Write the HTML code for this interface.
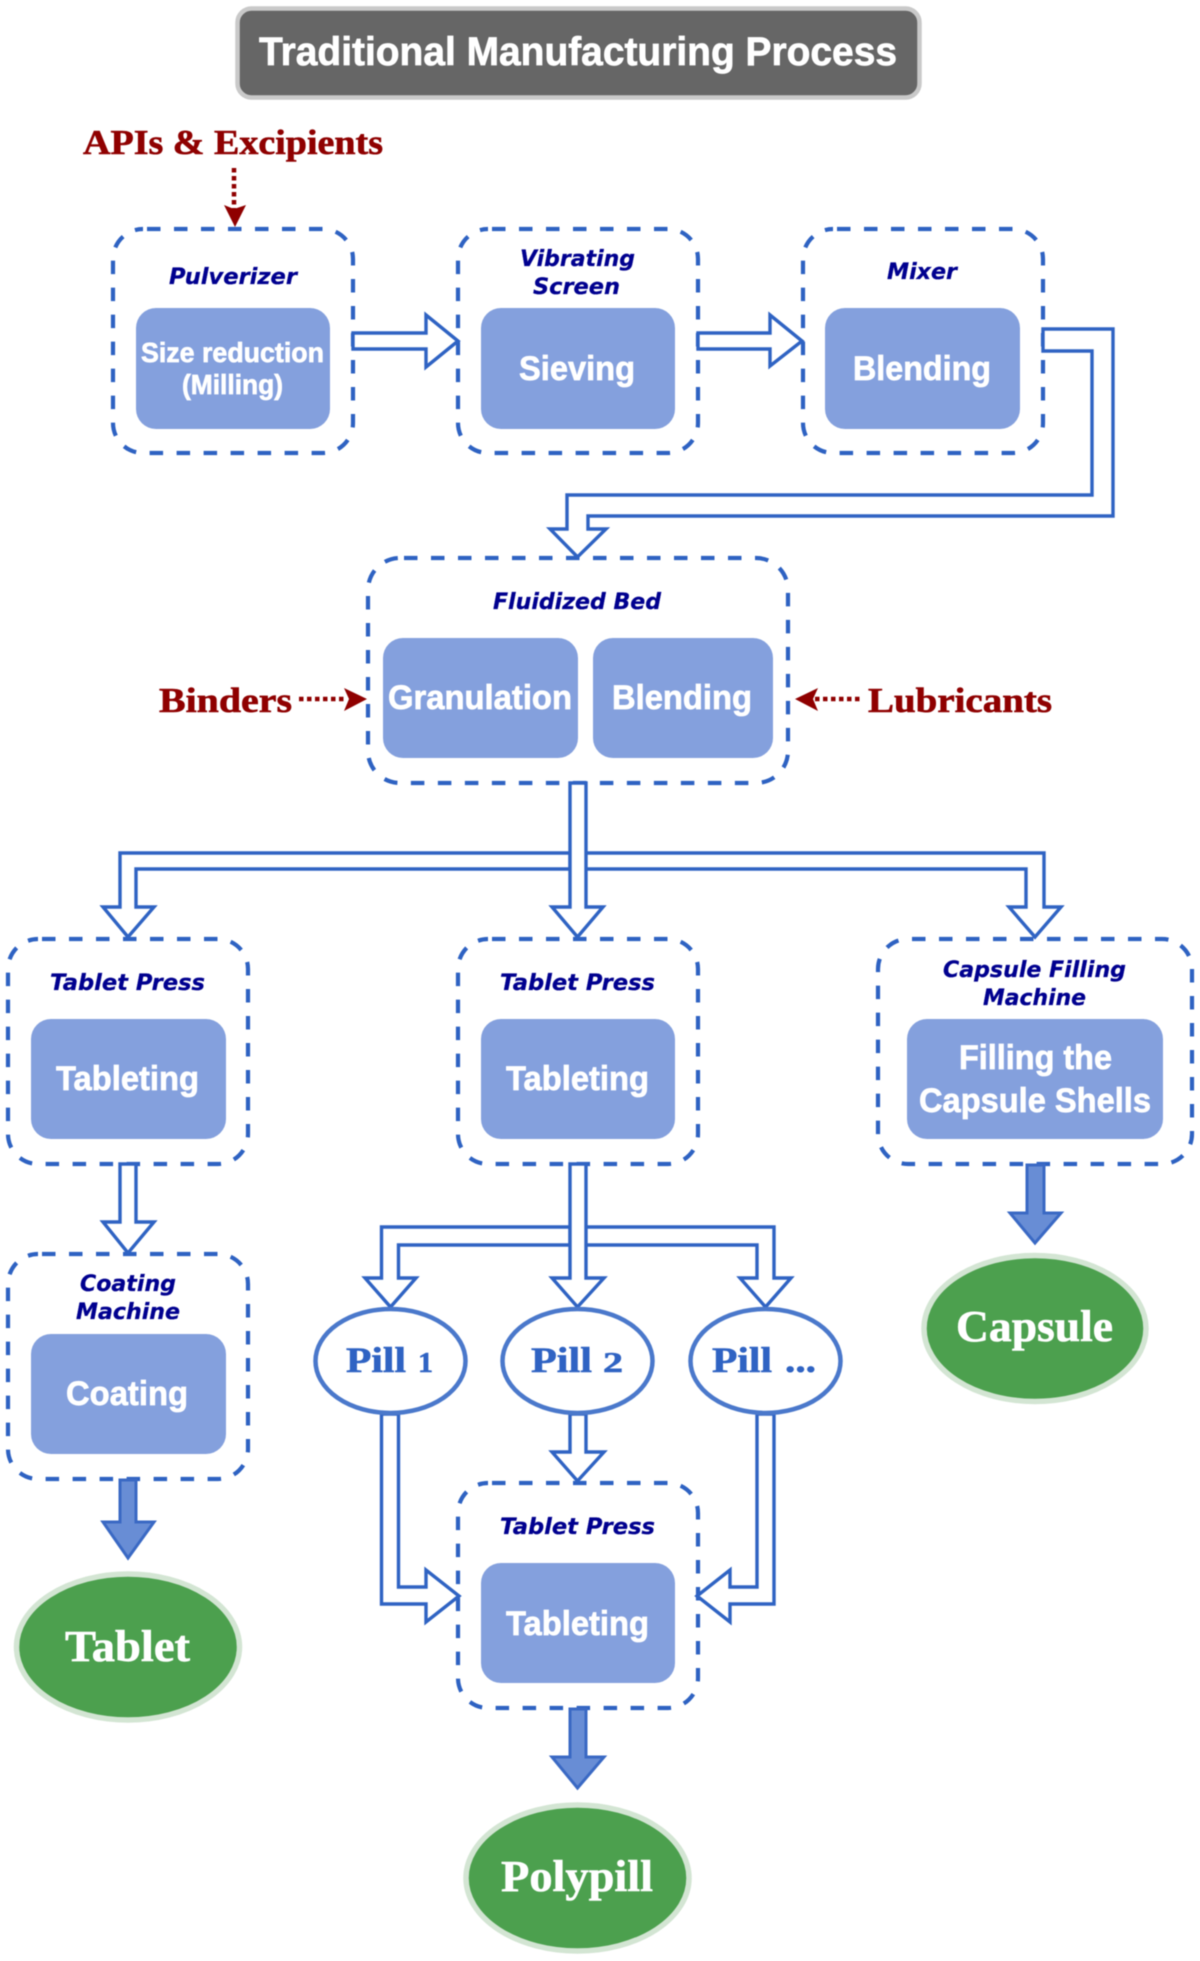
<!DOCTYPE html>
<html><head><meta charset="utf-8"><style>
html,body{margin:0;padding:0;background:#fff;width:1200px;height:1961px;overflow:hidden}
svg{display:block;filter:blur(.5px)}
.d{fill:none;stroke:#2e62c2;stroke-width:4.2;stroke-dasharray:13.5 13.5;stroke-dashoffset:-4}
.b{fill:#84a0dd}
.a{fill:#fff;stroke:#2f63c3;stroke-width:3.4;stroke-linejoin:miter}
.s{fill:#688dd5;stroke:#3a69c4;stroke-width:3}
.m{font:italic bold 22px "DejaVu Sans",sans-serif;fill:#00008f;stroke:#00008f;stroke-width:.25}
.w{font:bold 34px "Liberation Sans",sans-serif;fill:#fff;stroke:#fff;stroke-width:.7}
.r{font:bold 35px "Liberation Serif",serif;fill:#8f0000;stroke:#8f0000;stroke-width:.6}
.p{font:bold 36px "Liberation Serif",serif;fill:#2f63c3;stroke:#2f63c3;stroke-width:.6}
.g{font:bold 44px "Liberation Serif",serif;fill:#fff;stroke:#fff;stroke-width:.6}
.o{fill:#fff;stroke:#4a78cb;stroke-width:4.5}
.e{fill:#4ca04e;stroke:#d3e5d3;stroke-width:5.5}
.dot{fill:none;stroke:#8f0000;stroke-width:4.5;stroke-dasharray:4.5 3.5}
.h{fill:#8f0000}
</style></head><body>
<svg width="1200" height="1961" viewBox="0 0 1200 1961" xmlns="http://www.w3.org/2000/svg">
<rect x="237.5" y="8.5" width="682" height="89" rx="14" fill="#666" stroke="#c9c9c9" stroke-width="4.5"/>
<text x="259" y="65" textLength="638" lengthAdjust="spacingAndGlyphs" style="font:bold 40px 'Liberation Sans',sans-serif;fill:#fff;stroke:#fff;stroke-width:.7">Traditional Manufacturing Process</text>

<rect class="d" x="113" y="229" width="240" height="224" rx="30"/>
<rect class="d" x="458" y="229" width="240" height="224" rx="30"/>
<rect class="d" x="803" y="229" width="240" height="224" rx="30"/>
<rect class="d" x="368" y="558" width="420" height="225" rx="32"/>
<rect class="d" x="8" y="939" width="240" height="225" rx="30"/>
<rect class="d" x="458" y="939" width="240" height="225" rx="30"/>
<rect class="d" x="878" y="939" width="314" height="225" rx="30"/>
<rect class="d" x="8" y="1254" width="240" height="225" rx="30"/>
<rect class="d" x="458" y="1483" width="240" height="225" rx="30"/>

<rect class="b" x="136" y="308" width="194" height="121" rx="20"/>
<rect class="b" x="481" y="308" width="194" height="121" rx="20"/>
<rect class="b" x="825" y="308" width="195" height="121" rx="20"/>
<rect class="b" x="383" y="638" width="195" height="120" rx="20"/>
<rect class="b" x="593" y="638" width="180" height="120" rx="20"/>
<rect class="b" x="31" y="1019" width="195" height="120" rx="20"/>
<rect class="b" x="481" y="1019" width="194" height="120" rx="20"/>
<rect class="b" x="907" y="1019" width="256" height="120" rx="20"/>
<rect class="b" x="31" y="1334" width="195" height="120" rx="20"/>
<rect class="b" x="481" y="1563" width="194" height="120" rx="20"/>

<!-- hollow arrows -->
<polygon class="a" points="353,333 426,333 426,315 458,341 426,367 426,349 353,349"/>
<polygon class="a" points="698,333 770,333 770,315 802,341 770,366 770,349 698,349"/>
<polygon class="a" points="1043,329 1113,329 1113,516 588,516 588,529 606,529 577.5,557 550,529 567,529 567,495 1092,495 1092,351 1043,351"/>
<polygon class="a" points="570,853 120,853 120,907 103,907 128,937 154,907 136,907 136,869 570,869"/>
<polygon class="a" points="585,853 1044,853 1044,907 1061,907 1035,937 1009,907 1026,907 1026,869 585,869"/>
<polygon class="a" points="570,783 570,907 552,907 577.5,937 603,907 586,907 586,783"/>
<polygon class="a" points="120,1164 120,1222 103,1222 128,1253 154,1222 136,1222 136,1164"/>
<polygon class="a" points="570,1227 381.5,1227 381.5,1278 365,1278 390.5,1307 416,1278 398.5,1278 398.5,1245 570,1245"/>
<polygon class="a" points="585,1227 774,1227 774,1278 791,1278 765.5,1307 740,1278 757,1278 757,1245 585,1245"/>
<polygon class="a" points="570,1164 570,1278 552,1278 577.5,1307 604,1278 586,1278 586,1164"/>
<polygon class="a" points="570,1414 570,1452 552,1452 577.5,1481 604,1452 586,1452 586,1414"/>
<polygon class="a" points="381.5,1414 381.5,1604 426,1604 426,1622 459,1596 426,1570 426,1587 398.5,1587 398.5,1414"/>
<polygon class="a" points="774,1414 774,1604 730,1604 730,1622 697,1596 730,1570 730,1587 757,1587 757,1414"/>

<!-- solid arrows -->
<polygon class="s" points="570,1709 570,1757 552,1757 577.5,1788 604,1757 586,1757 586,1709"/>
<polygon class="s" points="120,1480 120,1522 103,1522 128,1558 154,1522 136,1522 136,1480"/>
<polygon class="s" points="1027,1165 1027,1213 1010,1213 1035,1243 1061,1213 1044,1213 1044,1165"/>

<!-- dotted -->
<line class="dot" x1="234" y1="168" x2="234" y2="210"/>
<polygon class="h" points="224,205 234,209 246,205 235,227"/>
<line class="dot" x1="299" y1="699" x2="346" y2="699"/>
<polygon class="h" points="344,688 367,699 344,711 349,699"/>
<line class="dot" x1="815" y1="699" x2="862" y2="699"/>
<polygon class="h" points="818,688 795,699 818,711 813,699"/>

<!-- ellipses -->
<ellipse class="o" cx="390.5" cy="1361" rx="75" ry="52"/>
<ellipse class="o" cx="577.5" cy="1361" rx="75" ry="52"/>
<ellipse class="o" cx="765.5" cy="1361" rx="75" ry="52"/>
<ellipse class="e" cx="577.5" cy="1878" rx="111.5" ry="73"/>
<ellipse class="e" cx="128" cy="1647" rx="111.5" ry="73"/>
<ellipse class="e" cx="1035" cy="1328.5" rx="111" ry="73"/>

<!-- machine labels -->
<text class="m" x="169" y="284" textLength="128" lengthAdjust="spacingAndGlyphs">Pulverizer</text>
<text class="m" x="520" y="266" textLength="115" lengthAdjust="spacingAndGlyphs">Vibrating</text>
<text class="m" x="533" y="294" textLength="87" lengthAdjust="spacingAndGlyphs">Screen</text>
<text class="m" x="887" y="279" textLength="70" lengthAdjust="spacingAndGlyphs">Mixer</text>
<text class="m" x="493" y="609" textLength="168" lengthAdjust="spacingAndGlyphs">Fluidized Bed</text>
<text class="m" x="50" y="990" textLength="155" lengthAdjust="spacingAndGlyphs">Tablet Press</text>
<text class="m" x="500" y="990" textLength="155" lengthAdjust="spacingAndGlyphs">Tablet Press</text>
<text class="m" x="943" y="977" textLength="183" lengthAdjust="spacingAndGlyphs">Capsule Filling</text>
<text class="m" x="983" y="1005" textLength="103" lengthAdjust="spacingAndGlyphs">Machine</text>
<text class="m" x="80" y="1291" textLength="96" lengthAdjust="spacingAndGlyphs">Coating</text>
<text class="m" x="76" y="1319" textLength="104" lengthAdjust="spacingAndGlyphs">Machine</text>
<text class="m" x="500" y="1534" textLength="155" lengthAdjust="spacingAndGlyphs">Tablet Press</text>

<!-- box labels -->
<text class="w" style="font-size:28px" x="141" y="362" textLength="183" lengthAdjust="spacingAndGlyphs">Size reduction</text>
<text class="w" style="font-size:28px" x="182" y="394" textLength="101" lengthAdjust="spacingAndGlyphs">(Milling)</text>
<text class="w" x="519" y="380" textLength="116" lengthAdjust="spacingAndGlyphs">Sieving</text>
<text class="w" x="853" y="380" textLength="138" lengthAdjust="spacingAndGlyphs">Blending</text>
<text class="w" x="388" y="709" textLength="184" lengthAdjust="spacingAndGlyphs">Granulation</text>
<text class="w" x="612" y="709" textLength="140" lengthAdjust="spacingAndGlyphs">Blending</text>
<text class="w" x="56" y="1090" textLength="143" lengthAdjust="spacingAndGlyphs">Tableting</text>
<text class="w" x="506" y="1090" textLength="143" lengthAdjust="spacingAndGlyphs">Tableting</text>
<text class="w" x="959" y="1069" textLength="153" lengthAdjust="spacingAndGlyphs">Filling the</text>
<text class="w" x="919" y="1112" textLength="232" lengthAdjust="spacingAndGlyphs">Capsule Shells</text>
<text class="w" x="66" y="1405" textLength="122" lengthAdjust="spacingAndGlyphs">Coating</text>
<text class="w" x="506" y="1635" textLength="143" lengthAdjust="spacingAndGlyphs">Tableting</text>

<!-- red labels -->
<text class="r" x="83" y="154" textLength="300" lengthAdjust="spacingAndGlyphs">APIs &amp; Excipients</text>
<text class="r" x="159" y="712" textLength="133" lengthAdjust="spacingAndGlyphs">Binders</text>
<text class="r" x="868" y="712" textLength="184" lengthAdjust="spacingAndGlyphs">Lubricants</text>

<!-- pills -->
<text class="p" y="1372"><tspan x="346" textLength="60" lengthAdjust="spacingAndGlyphs">Pill</tspan> <tspan x="418" font-size="29" textLength="15" lengthAdjust="spacingAndGlyphs">1</tspan></text>
<text class="p" y="1372"><tspan x="531" textLength="61" lengthAdjust="spacingAndGlyphs">Pill</tspan> <tspan x="603" font-size="29" textLength="20" lengthAdjust="spacingAndGlyphs">2</tspan></text>
<text class="p" y="1372"><tspan x="712" textLength="60" lengthAdjust="spacingAndGlyphs">Pill</tspan> <tspan x="785" textLength="31" lengthAdjust="spacingAndGlyphs">...</tspan></text>

<!-- products -->
<text class="g" x="501" y="1891" textLength="152" lengthAdjust="spacingAndGlyphs">Polypill</text>
<text class="g" x="65" y="1661" textLength="125" lengthAdjust="spacingAndGlyphs">Tablet</text>
<text class="g" x="956" y="1341" textLength="157" lengthAdjust="spacingAndGlyphs">Capsule</text>
</svg>
</body></html>
